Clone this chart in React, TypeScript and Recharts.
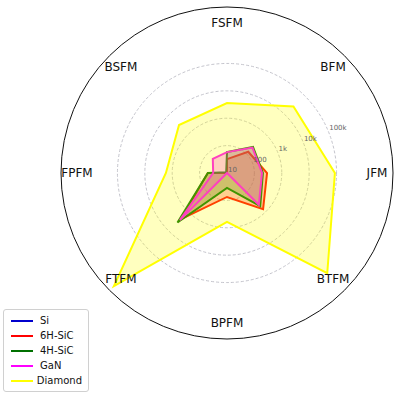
import { Legend, PolarAngleAxis, PolarGrid, PolarRadiusAxis, Radar, RadarChart } from 'recharts'

// categories listed clockwise from the right-hand axis
const CATEGORIES = ['JFM', 'BTFM', 'BPFM', 'FTFM', 'FPFM', 'BSFM', 'FSFM', 'BFM']

// values (Si sits at the axis floor)
const SI = [10, 10, 10, 10, 10, 10, 10, 10]
const SIC_6H = [290, 730, 75, 2400, 50, 10, 32, 125]
const SIC_4H = [205, 520, 35, 3600, 50, 11, 58, 220]
const GAN = [190, 440, 10, 2700, 32, 54, 58, 205]
const DIAMOND = [87000, 1500000, 610, 6900000, 1700, 3000, 3600, 27000]

const RADIUS_TICKS = [10, 100, 1000, 10000, 100000]
const RADIUS_TICK_LABELS = ['10', '100', '1k', '10k', '100k']

const SERIES = [
  { key: 'si', name: 'Si', color: '#0000cd', values: SI },
  { key: 'sic6h', name: '6H-SiC', color: '#ff0000', values: SIC_6H },
  { key: 'sic4h', name: '4H-SiC', color: '#007000', values: SIC_4H },
  { key: 'gan', name: 'GaN', color: '#ff00ff', values: GAN },
  { key: 'diamond', name: 'Diamond', color: '#ffff00', values: DIAMOND },
]

const CX = 227
const CY = 173
const OUTER = 166
const LABEL_R = 150
const FONT = '"DejaVu Sans", sans-serif'

const chartData = CATEGORIES.map((cat, i) => {
  const row: Record<string, string | number> = { cat }
  SERIES.forEach((s) => {
    row[s.key] = s.values[i]
  })
  return row
})

function AngleTick(props: any) {
  const angle = (props.payload.coordinate * Math.PI) / 180
  const x = CX + LABEL_R * Math.cos(-angle)
  const y = CY + LABEL_R * Math.sin(-angle)
  return (
    <text x={x} y={y} textAnchor="middle" dominantBaseline="central" fontSize={12} fill="#111" fontFamily={FONT}>
      {props.payload.value}
    </text>
  )
}

function RadiusTick(props: any) {
  const idx = RADIUS_TICKS.indexOf(props.payload.value)
  return (
    <text x={props.x + 1} y={props.y - 1} textAnchor="start" fontSize={7} fill="#666" fontFamily={FONT}>
      {RADIUS_TICK_LABELS[idx] ?? ''}
    </text>
  )
}

function LegendBox() {
  return (
    <div
      style={{
        border: '1px solid #d0d0d0',
        borderRadius: 3,
        background: '#fff',
        padding: '3px 6px 3px 6px',
        width: 72,
        fontFamily: FONT,
        fontSize: 10,
        color: '#111',
      }}
    >
      {SERIES.map((s) => (
        <div key={s.key} style={{ display: 'flex', alignItems: 'center', height: 15 }}>
          <svg width={30} height={10}>
            <line x1={1} y1={5} x2={23} y2={5} stroke={s.color} strokeWidth={2} />
          </svg>
          <span>{s.name}</span>
        </div>
      ))}
    </div>
  )
}

export default function App() {
  return (
    <div style={{ position: 'absolute', left: 0, top: 0, width: 400, height: 397, background: '#fff' }}>
      <RadarChart
        width={400}
        height={397}
        data={chartData}
        cx={CX}
        cy={CY}
        outerRadius={OUTER}
        startAngle={0}
        endAngle={-360}
        margin={{ top: 0, right: 0, bottom: 0, left: 0 }}
      >
        <PolarGrid gridType="circle" radialLines={false} stroke="#c4c4cc" strokeDasharray="3 2" />
        <PolarAngleAxis
          dataKey="cat"
          axisLineType="circle"
          axisLine={{ stroke: '#111', strokeWidth: 1 }}
          tickLine={false}
          tick={<AngleTick />}
        />
        <PolarRadiusAxis
          angle={22.5}
          type="number"
          scale="log"
          domain={[10, 11500000]}
          ticks={RADIUS_TICKS}
          axisLine={false}
          tickLine={false}
          tick={<RadiusTick />}
        />
        {SERIES.map((s) => (
          <Radar
            key={s.key}
            name={s.name}
            dataKey={s.key}
            stroke={s.color}
            strokeWidth={2}
            fill={s.color}
            fillOpacity={0.25}
            dot={false}
            isAnimationActive={false}
          />
        ))}
        <Legend
          layout="horizontal"
          verticalAlign="bottom"
          align="left"
          content={() => <LegendBox />}
          wrapperStyle={{ left: 3, bottom: 5, width: 86 }}
        />
      </RadarChart>
    </div>
  )
}
